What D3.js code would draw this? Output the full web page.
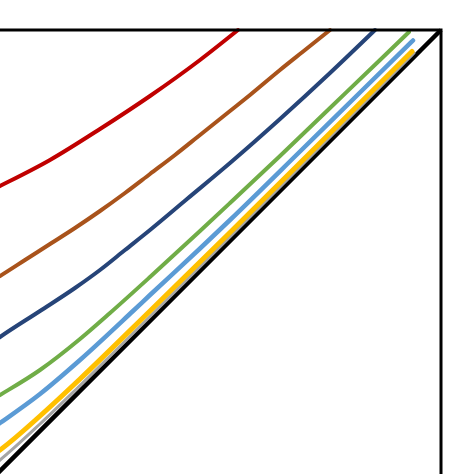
<!DOCTYPE html>
<html>
<head>
<meta charset="utf-8">
<script src="https://cdn.jsdelivr.net/npm/d3@7"></script>
<style>
  html, body { margin: 0; padding: 0; background: #fff; overflow: hidden; }
  svg { display: block; }
</style>
</head>
<body>
<svg id="chart" width="474" height="474"></svg>
<script>
// Series data (x, y in the chart's unit square)
const redX   = [0.098, 0.118, 0.218, 0.318, 0.418, 0.518, 0.594];
const redY   = [0.678, 0.688, 0.740, 0.802, 0.868, 0.940, 1.000];

const brownX = [0.098, 0.118, 0.168, 0.218, 0.268, 0.318, 0.368, 0.418, 0.468, 0.518, 0.578, 0.618, 0.678, 0.728, 0.778];
const brownY = [0.496, 0.508, 0.540, 0.572, 0.604, 0.638, 0.674, 0.712, 0.750, 0.790, 0.838, 0.870, 0.920, 0.960, 1.000];

const navyX  = [0.098, 0.118, 0.198, 0.268, 0.318, 0.368, 0.418, 0.492, 0.578, 0.678, 0.778, 0.868];
const navyY  = [0.372, 0.386, 0.438, 0.484, 0.520, 0.560, 0.600, 0.662, 0.734, 0.822, 0.914, 1.000];

const greenX = [0.098, 0.118, 0.198, 0.278, 0.338, 0.418, 0.518, 0.578, 0.678, 0.778, 0.878, 0.936];
const greenY = [0.258, 0.270, 0.320, 0.382, 0.434, 0.506, 0.598, 0.654, 0.748, 0.844, 0.940, 0.996];

const skyX   = [0.098, 0.118, 0.198, 0.278, 0.384, 0.418, 0.518, 0.578, 0.718, 0.838, 0.944];
const skyY   = [0.200, 0.214, 0.272, 0.340, 0.438, 0.470, 0.563, 0.620, 0.757, 0.875, 0.979];

const goldX  = [0.098, 0.118, 0.198, 0.278, 0.418, 0.578, 0.718, 0.942];
const goldY  = [0.146, 0.160, 0.228, 0.302, 0.438, 0.595, 0.734, 0.957];

const grayX  = [0.098, 0.118, 0.198, 0.278, 0.418, 0.718, 0.946];
const grayY  = [0.124, 0.140, 0.212, 0.289, 0.427, 0.726, 0.954];

const diagX  = [0, 1];
const diagY  = [0, 1];

const seriesColors = ["#000000", "#A5A5A5", "#FFC000", "#5B9BD5", "#70AD47", "#264478", "#A9531B", "#C00000"];
const seriesWidths = [4.5, 3, 5, 4.5, 4, 4, 4, 4];

// Layout
const svg = d3.select("#chart");
const plotRight = 441, plotTop = 30, plotSize = 500;
const x = d3.scaleLinear().domain([0, 1]).range([plotRight - plotSize, plotRight]);
const y = d3.scaleLinear().domain([0, 1]).range([plotTop + plotSize, plotTop]);

const series = [
  [diagX, diagY], [grayX, grayY], [goldX, goldY], [skyX, skyY],
  [greenX, greenY], [navyX, navyY], [brownX, brownY], [redX, redY]
];

const line = d3.line().x(d => x(d[0])).y(d => y(d[1])).curve(d3.curveMonotoneX);

series.forEach(([xs, ys], i) => {
  const pts = xs.map((v, j) => [v, ys[j]]);
  svg.append("path")
    .datum(pts)
    .attr("d", line)
    .attr("fill", "none")
    .attr("stroke", seriesColors[i])
    .attr("stroke-width", seriesWidths[i])
    .attr("stroke-linecap", i === 0 ? "butt" : "round")
    .attr("stroke-linejoin", "round");
});

// Plot frame
svg.append("rect")
  .attr("x", x(0))
  .attr("y", y(1))
  .attr("width", x(1) - x(0))
  .attr("height", y(0) - y(1))
  .attr("fill", "none")
  .attr("stroke", "#000")
  .attr("stroke-width", 3);
</script>
</body>
</html>
